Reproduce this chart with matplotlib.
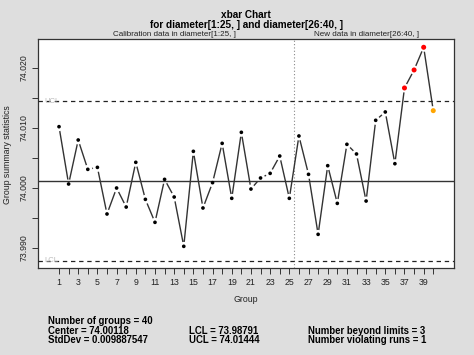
import matplotlib
matplotlib.use("Agg")
import matplotlib.pyplot as plt
import numpy as np

groups = np.arange(1, 41)
means = [74.01022, 74.00067, 74.00800, 74.00311, 74.00344, 73.99567, 74.00000, 73.99683,
         74.00428, 73.99811, 73.99428, 74.00144, 73.99850, 73.99028, 74.00611, 73.99667,
         74.00089, 74.00744, 73.99828, 74.00928, 73.99983, 74.00167, 74.00244, 74.00533,
         73.99828, 74.00867, 74.00228, 73.99228, 74.00372, 73.99744, 74.00728, 74.00567,
         73.99783, 74.01128, 74.01267, 74.00405, 74.01667, 74.01967, 74.02345, 74.01289]
point_colors = ['black'] * 36 + ['red', 'red', 'red', 'orange']
center = 74.00118
lcl = 73.98791
ucl = 74.01444
n_calib = 25
title_lines = ["xbar Chart", "for diameter[1:25, ] and diameter[26:40, ]"]
calib_label = "Calibration data in diameter[1:25, ]"
new_label = "New data in diameter[26:40, ]"
stats_col1 = ["Number of groups = 40", "Center = 74.00118", "StdDev = 0.009887547"]
stats_col2 = ["LCL = 73.98791", "UCL = 74.01444"]
stats_col3 = ["Number beyond limits = 3", "Number violating runs = 1"]

plt.rcParams['font.family'] = ['Liberation Sans', 'DejaVu Sans']
bg = '#DEDEDE'
fig = plt.figure(figsize=(4.74, 3.55), dpi=100, facecolor=bg)
ax = fig.add_axes([38/474, 1-268/355, (454-38)/474, (268-39)/355])
ax.set_facecolor('white')

sizes = [7 if c == 'black' else 13 for c in point_colors]
ax.plot(groups, means, color='#333333', lw=1.0, zorder=2)
ax.scatter(groups, means, s=42, color='white', edgecolors='none', zorder=3)
ax.axhline(center, color='#333333', lw=1.0, zorder=4)
ax.axhline(ucl, color='#222222', lw=0.9, ls=(0, (3.5, 3)), zorder=4)
ax.axhline(lcl, color='#222222', lw=0.9, ls=(0, (3.5, 3)), zorder=4)
ax.axvline(n_calib + 0.5, color='#888888', lw=0.8, ls=(0, (1, 2)), zorder=1)
ax.scatter(groups, means, s=sizes, c=point_colors, edgecolors='none', zorder=5)

ax.text(0.015, ucl, "UCL", transform=ax.get_yaxis_transform(), fontsize=5.5,
        color='#BBBBBB', va='center', ha='left', zorder=6)
ax.text(0.015, lcl, "LCL", transform=ax.get_yaxis_transform(), fontsize=5.5,
        color='#BBBBBB', va='center', ha='left', zorder=6)

ax.set_xlim(-1.19, 42.16)
ax.set_ylim(73.98667, 74.02483)
ax.set_xticks(groups)
ax.set_xticklabels([str(g) if g % 2 == 1 else '' for g in groups], fontsize=6.3, color='#222222')
yt = [73.990, 73.995, 74.000, 74.005, 74.010, 74.015, 74.020]
ax.set_yticks(yt)
ax.set_yticklabels(['73.990', '', '74.000', '', '74.010', '', '74.020'], fontsize=6.3,
                   rotation=90, va='center', color='#222222')
ax.tick_params(axis='both', direction='out', length=4, width=0.7, color='#333333', pad=3)
for s in ax.spines.values():
    s.set_linewidth(0.9)
    s.set_color('#333333')

ax.set_xlabel("Group", fontsize=6.3, labelpad=6, color='#222222')
fig.text(8/474, 1-155/355, "Group summary statistics", rotation=90, fontsize=6.3,
         va='center', ha='center', color='#222222')

fig.text(246/474, 1-15/355, title_lines[0], fontsize=7.2, fontweight='bold', ha='center', va='center')
fig.text(246/474, 1-25/355, title_lines[1], fontsize=7.2, fontweight='bold', ha='center', va='center')
ax.text(np.mean(groups[:n_calib]), 1.0 + 5/229, calib_label, transform=ax.get_xaxis_transform(),
        fontsize=5.8, ha='center', va='center', color='#222222')
ax.text(np.mean(groups[n_calib:]), 1.0 + 5/229, new_label, transform=ax.get_xaxis_transform(),
        fontsize=5.8, ha='center', va='center', color='#222222')

ys = [321, 331, 340]
for i, t in enumerate(stats_col1):
    fig.text(48/474, 1-ys[i]/355, t, fontsize=6.9, fontweight='bold', ha='left', va='center')
for i, t in enumerate(stats_col2):
    fig.text(189/474, 1-ys[i+1]/355, t, fontsize=6.9, fontweight='bold', ha='left', va='center')
for i, t in enumerate(stats_col3):
    fig.text(308/474, 1-ys[i+1]/355, t, fontsize=6.9, fontweight='bold', ha='left', va='center')

fig.savefig("out.png", dpi=100, facecolor=bg)
